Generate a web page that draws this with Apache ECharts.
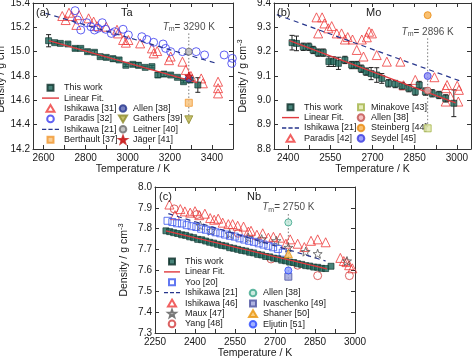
<!DOCTYPE html>
<html><head><meta charset="utf-8">
<script src="https://cdn.jsdelivr.net/npm/echarts@6/dist/echarts.min.js"></script>
<style>html,body{margin:0;padding:0;background:#fff}#c{width:474px;height:360px}</style>
</head><body><div id="c"></div>
<script>
// ---------------- Panel (a) Ta ----------------
const taT   = [2624,2653,2680,2716,2750,2777,2809,2842,2869,2898,2930,2959,2991,3024,3051,3083,3115,3143,3172,3204,3236,3265,3297,3333];
const taRho = [15.09,15.074,15.068,15.063,15.027,15.027,15.0,14.995,14.959,14.953,14.942,14.932,14.888,14.896,14.888,14.871,14.877,14.808,14.816,14.808,14.789,14.753,14.767,14.726];
const taErr = [0.05,0.01,0.01,0.01,0.015,0.01,0.015,0.015,0.01,0.015,0.02,0.015,0.01,0.015,0.02,0.01,0.01,0.02,0.02,0.01,0.01,0.01,0.02,0.06];
const taFitT = [2625,3330];
const taFitRho = [15.09,14.745];
const ta31T = [2689,2705,2721,2734,2769,2756,2814,2838,2854,2898,2949,2954,2978,2991,3003,3059,3115,3123,3140,3196,3204,3260,3276,3300,3349,3357,3429,3429,3429];
const ta31Rho = [15.293,15.26,15.32,15.293,15.30,15.22,15.274,15.247,15.21,15.205,15.18,15.15,15.096,15.074,15.096,15.068,15.027,14.986,15.005,14.93,14.96,14.918,14.85,14.80,14.78,14.74,14.753,14.70,14.657];
const ta32T = [2750,2761,2777,2805,2825,2842,2858,2879,2895,2922,2938,2978,3003,3067,3091,3123,3168,3180,3204,3260,3325,3365,3458,3497,3494];
const ta32Rho = [15.337,15.26,15.178,15.238,15.205,15.178,15.192,15.238,15.184,15.15,15.164,15.184,15.137,15.123,15.10,15.077,15.063,15.027,15.0,15.0,15.0,14.973,14.973,14.945,14.904];
const ta21T = [2610,3420];
const ta21Rho = [15.315,14.905];
const taTm = 3290;
const taTmLine = [15.15,14.41];
const taSingleNames = ['Berthault [37]','Allen [38]#a','Gathers [39]','Leitner [40]','Jäger [41]'];
const taSingleRho = [14.58,14.78,14.44,15.00,14.80];

// ---------------- Panel (b) Mo ----------------
const moT = [2414,2430,2454,2474,2489,2507,2525,2545,2561,2579,2602,2626,2644,2660,2677,2695,2715,2733,2757,2781,2805,2829,2852,2866,2888,2912,2936,2960,2989];
const moRho = [9.237,9.234,9.22,9.22,9.207,9.196,9.196,9.159,9.159,9.152,9.166,9.145,9.145,9.13,9.118,9.11,9.104,9.09,9.07,9.067,9.059,9.05,9.036,9.063,9.036,9.029,9.022,9.008,8.988];
const moErr = [0.03,0.03,0.015,0.015,0.015,0.015,0.015,0.02,0.02,0.025,0.015,0.015,0.015,0.015,0.015,0.025,0.03,0.02,0.015,0.015,0.015,0.015,0.015,0.015,0.015,0.015,0.015,0.015,0.055];
const moFitT = [2405,2995];
const moFitRho = [9.245,8.99];
const mo42T = [2501,2521,2529,2507,2543,2555,2573,2590,2602,2612,2629,2644,2662,2680,2668,2688,2698,2715,2751,2799,2810,2852,2920,2960,2965,2977,2960,3001,3007,3005];
const mo42Rho = [9.341,9.341,9.316,9.275,9.296,9.305,9.275,9.275,9.25,9.26,9.25,9.207,9.25,9.259,9.18,9.282,9.275,9.186,9.159,9.159,9.062,9.084,9.095,9.05,9.063,9.015,8.995,9.06,9.043,8.995];
const mo21T = [2360,3010];
const mo21Rho = [9.352,9.08];
const moTm = 2896;
const moTmLine = [9.255,8.886];
const moSingleNames = ['Minakove [43]','Allen [38]#b','Steinberg [44]','Seydel [45]'];
const moSingleRho = [8.885,9.04,9.35,9.10];

// ---------------- Panel (c) Nb ----------------
const nbT = [2291,2305,2320,2335,2350,2365,2380,2395,2410,2425,2440,2455,2470,2485,2500,2515,2530,2545,2560,2575,2590,2605,2620,2635,2650,2665,2680,2695,2710,2725,2740,2755,2770,2785,2800,2815,2830,2845,2860,2875,2890,2910];
const nbRho = [7.79,7.786,7.781,7.777,7.771,7.768,7.761,7.757,7.749,7.747,7.741,7.735,7.731,7.725,7.72,7.717,7.709,7.706,7.701,7.696,7.693,7.687,7.684,7.677,7.674,7.667,7.665,7.659,7.656,7.649,7.646,7.64,7.638,7.632,7.629,7.623,7.621,7.616,7.615,7.61,7.609,7.62];
const nbFitT = [2291,2895];
const nbFitRho = [7.79,7.608];
const yooT = [2297,2315,2333,2351,2369,2387,2405,2423,2441,2459,2477,2495,2513,2531,2549,2567,2585,2603,2621,2639,2657,2675,2693,2711,2729];
const yooRho = [7.838,7.832,7.826,7.825,7.817,7.812,7.808,7.80,7.795,7.79,7.783,7.778,7.772,7.766,7.762,7.754,7.748,7.742,7.737,7.73,7.724,7.718,7.711,7.703,7.685];
const nb21T = [2300,2890];
const nb21Rho = [7.872,7.645];
const nb46T = [2304,2325,2345,2362,2382,2400,2416,2437,2457,2472,2487,2504,2525,2541,2560,2582,2600,2610,2632,2654,2675,2694,2719,2741,2757,2785,2810,2835,2860,2890,2945,2958,2968,2978,2990];
const nb46Rho = [7.916,7.865,7.894,7.883,7.877,7.884,7.865,7.872,7.851,7.843,7.848,7.829,7.822,7.822,7.814,7.81,7.786,7.79,7.771,7.778,7.757,7.761,7.757,7.728,7.749,7.728,7.712,7.742,7.749,7.735,7.66,7.645,7.64,7.625,7.61];
const mauxT = [2420,2460,2530,2600,2650,2705,2750,2815,2860,2970];
const mauxRho = [7.815,7.79,7.775,7.757,7.75,7.742,7.71,7.69,7.68,7.645];
const yangT = [2322,2407,2562,2685,2785,2860,2979];
const yangRho = [7.895,7.868,7.778,7.655,7.625,7.575,7.575];
const nbTm = 2750;
const nbTmLine = [7.87,7.55];
const nbSingleNames = ['Allen [38]#c','Ivaschenko [49]','Shaner [50]','Eljutin [51]'];
const nbSingleRho = [7.83,7.57,7.68,7.60];

// ---------------- axis ticks ----------------
const taXLabels = [2600,2800,3000,3200,3400];
const taXTicks = [2600,2700,2800,2900,3000,3100,3200,3300,3400,3500];
const moXLabels = [2400,2550,2700,2850,3000];
const moXTicks = [2400,2475,2550,2625,2700,2775,2850,2925,3000];
const nbXLabels = [2250,2400,2550,2700,2850,3000];
const nbXTicks = [2250,2325,2400,2475,2550,2625,2700,2775,2850,2925,3000];

const FONT = "'Liberation Sans', Arial, Helvetica, sans-serif";
const AX = '#333';
const TXT = '#1a1a1a';
const TEAL = '#1c6559', TEAL_E = '#0b2e28';
const FITRED = '#e0393e';
const TRI = '#ee3a3a';
const CIRC = '#3a3aef';
const NAVY = '#26358c';
const STAR = 'path://M0,-10L2.35,-3.24L9.51,-3.09L3.8,1.24L5.88,8.09L0,4L-5.88,8.09L-3.8,1.24L-9.51,-3.09L-2.35,-3.24Z';

// legend icon paths: an invisible bounding box (moveTo corners) keeps the marker undistorted
function icon(shape, w) {
  const h = 7, c = w / 2, m = h / 2;
  let p;
  if (shape === 'line') p = `M0,${m - 0.7}h${w}v1.4h-${w}z`;
  else if (shape === 'dash') { const d = w / 4; p = `M0,${m - 0.65}h${d}v1.3h-${d}z M${1.5 * d},${m - 0.65}h${d}v1.3h-${d}z M${3 * d},${m - 0.65}h${d}v1.3h-${d}z`; }
  else if (shape === 'rect') p = `M${c - 3},${m - 3}h6v6h-6z`;
  else if (shape === 'circle') p = `M${c - 3.3},${m}a3.3,3.3 0 1,0 6.6,0a3.3,3.3 0 1,0 -6.6,0z`;
  else if (shape === 'triangle') p = `M${c},${m - 3.5}L${c + 4},${m + 3.3}L${c - 4},${m + 3.3}z`;
  else if (shape === 'tridown') p = `M${c - 4},${m - 3.3}L${c + 4},${m - 3.3}L${c},${m + 3.5}z`;
  else if (shape === 'star') {
    const pts = [[0,-10],[2.35,-3.24],[9.51,-3.09],[3.8,1.24],[5.88,8.09],[0,4],[-5.88,8.09],[-3.8,1.24],[-9.51,-3.09],[-2.35,-3.24]];
    p = 'M' + pts.map(q => (c + q[0] * 0.4).toFixed(2) + ',' + (m + 0.4 + q[1] * 0.4).toFixed(2)).join('L') + 'z';
  }
  return `path://M0,0M${w},${h}` + p;
}

const pairs = (xs, ys) => xs.map((x, i) => [x, ys[i]]);

function xPair(gi, min, max, labels, ticks) {
  const line = {show: true, onZero: false, lineStyle: {color: AX, width: 1}};
  const tick = {show: true, inside: true, length: 4, customValues: ticks, lineStyle: {color: AX}};
  return [
    {type: 'value', gridIndex: gi, min, max, position: 'bottom', axisLine: line, axisTick: tick, splitLine: {show: false},
     axisLabel: {show: true, customValues: labels, fontSize: 10, color: TXT, fontFamily: FONT, margin: 4, formatter: v => String(v)},
     name: 'Temperature / K', nameLocation: 'middle', nameGap: 14,
     nameTextStyle: {fontSize: 10.5, color: TXT, fontFamily: FONT}},
    {type: 'value', gridIndex: gi, min, max, position: 'top', axisLine: line, axisTick: tick, splitLine: {show: false},
     axisLabel: {show: false}}
  ];
}
function yPair(gi, min, max, interval) {
  const line = {show: true, onZero: false, lineStyle: {color: AX, width: 1}};
  const tick = {show: true, inside: true, length: 4, lineStyle: {color: AX}};
  return [
    {type: 'value', gridIndex: gi, min, max, interval, position: 'left', axisLine: line, axisTick: tick, splitLine: {show: false},
     axisLabel: {fontSize: 10, color: TXT, fontFamily: FONT, margin: 3, formatter: v => v.toFixed(1)},
     name: 'Density / g cm{s|-3}', nameLocation: 'middle', nameGap: 23,
     nameTextStyle: {fontSize: 10.5, color: TXT, fontFamily: FONT, rich: {s: {fontSize: 7.5, fontFamily: FONT, color: TXT, padding: [0, 0, 7, 0]}}}},
    {type: 'value', gridIndex: gi, min, max, interval, position: 'right', axisLine: line, axisTick: tick, splitLine: {show: false},
     axisLabel: {show: false}}
  ];
}

function sc(gi, name, xs, ys, symbol, size, color, border, extra) {
  return Object.assign({
    type: 'scatter', name, xAxisIndex: gi * 2, yAxisIndex: gi * 2, symbol, symbolSize: size,
    itemStyle: {color, borderColor: border, borderWidth: 1}, data: pairs(xs, ys), z: 3
  }, extra || {});
}
function ln(gi, name, xs, ys, color, type, width) {
  return {type: 'line', name, xAxisIndex: gi * 2, yAxisIndex: gi * 2, symbol: 'none',
    lineStyle: {color, type, width}, itemStyle: {color}, data: pairs(xs, ys), z: 4};
}
function err(gi, xs, ys, es) {
  return {type: 'custom', xAxisIndex: gi * 2, yAxisIndex: gi * 2, silent: true, z: 2,
    encode: {x: 0, y: [1, 2]},
    data: xs.map((x, i) => [x, ys[i] - es[i], ys[i] + es[i]]),
    renderItem: (params, api) => {
      const a = api.coord([api.value(0), api.value(1)]);
      const b = api.coord([api.value(0), api.value(2)]);
      const w = 2.5, st = {stroke: '#222', lineWidth: 1};
      return {type: 'group', children: [
        {type: 'line', shape: {x1: a[0], y1: a[1], x2: b[0], y2: b[1]}, style: st},
        {type: 'line', shape: {x1: a[0] - w, y1: a[1], x2: a[0] + w, y2: a[1]}, style: st},
        {type: 'line', shape: {x1: b[0] - w, y1: b[1], x2: b[0] + w, y2: b[1]}, style: st}
      ]};
    }};
}
function tmLine(gi, tm, ys, text) {
  return [
    {type: 'line', xAxisIndex: gi * 2, yAxisIndex: gi * 2, symbol: 'none', silent: true, z: 1,
     lineStyle: {color: '#777', type: [1.5, 2], width: 1}, data: [[tm, ys[0]], [tm, ys[1]]]},
    {type: 'scatter', xAxisIndex: gi * 2, yAxisIndex: gi * 2, silent: true, symbolSize: 1, z: 6,
     itemStyle: {color: 'rgba(0,0,0,0)'}, data: [[tm, ys[0]]],
     label: {show: true, position: 'top', distance: 0, formatter: '{i|T}{s|m}= ' + text,
       fontSize: 10, color: TXT, fontFamily: FONT,
       rich: {i: {fontStyle: 'italic', fontSize: 10, fontFamily: FONT, color: TXT},
              s: {fontSize: 7, fontFamily: FONT, color: TXT, padding: [5, 0, 0, 0]}}}}
  ];
}

const series = [];
const legendShape = {};
// (a)
series.push(sc(0, 'Ishikawa [31]', ta31T, ta31Rho, 'triangle', 9, 'rgba(255,255,255,0)', TRI));
series.push(sc(0, 'Paradis [32]', ta32T, ta32Rho, 'circle', 8, 'rgba(255,255,255,0)', CIRC));
series.push(ln(0, 'Ishikawa [21]', ta21T, ta21Rho, NAVY, [5, 4], 1.2));
series.push(err(0, taT, taRho, taErr));
series.push(sc(0, 'This work', taT, taRho, 'rect', 6, TEAL, TEAL_E, {itemStyle: {color: TEAL, borderColor: TEAL_E, borderWidth: 0.8}}));
series.push(ln(0, 'Linear Fit.', taFitT, taFitRho, FITRED, 'solid', 1.3));
series.push(...tmLine(0, taTm, taTmLine, '3290 K'));
const taSingleStyle = [['rect', 7, '#f8c27a', '#f0962e'], ['circle', 7, '#5561b0', '#26358c'], ['triangle', 8, '#b8b24a', '#8d8a2c'], ['circle', 7, '#b5b5b5', '#6d6d6d'], [STAR, 8, '#f02828', '#c01010']];
taSingleNames.forEach((n, i) => {
  const s = taSingleStyle[i];
  series.push(sc(0, n, [taTm], [taSingleRho[i]], s[0], s[1], s[2], s[3], {z: 5, symbolRotate: n.startsWith('Gathers') ? 180 : 0}));
});
// (b)
series.push(sc(1, 'Paradis [42]', mo42T, mo42Rho, 'triangle', 9, 'rgba(255,255,255,0)', TRI));
series.push(ln(1, 'Ishikawa [21]', mo21T, mo21Rho, NAVY, [5, 4], 1.2));
series.push(err(1, moT, moRho, moErr));
series.push(sc(1, 'This work', moT, moRho, 'rect', 6, TEAL, TEAL_E, {itemStyle: {color: TEAL, borderColor: TEAL_E, borderWidth: 0.8}}));
series.push(ln(1, 'Linear Fit.', moFitT, moFitRho, FITRED, 'solid', 1.3));
series.push(...tmLine(1, moTm, moTmLine, '2896 K'));
const moSingleStyle = [['rect', 7, '#dfe6a8', '#a4b44a'], ['circle', 7, '#f2b3b3', '#c0504d'], ['circle', 7, '#f7b04e', '#e88a10'], ['circle', 7, '#8a8cf5', '#3a3ae0']];
moSingleNames.forEach((n, i) => {
  const s = moSingleStyle[i];
  series.push(sc(1, n, [moTm], [moSingleRho[i]], s[0], s[1], s[2], s[3], {z: 5}));
});
// (c)
series.push(sc(2, 'Ishikawa [46]', nb46T, nb46Rho, 'triangle', 9, 'rgba(255,255,255,0)', TRI));
series.push(sc(2, 'Yang [48]', yangT, yangRho, 'circle', 8, 'rgba(255,255,255,0)', '#d23c3c'));
series.push(sc(2, 'Maux [47]', mauxT, mauxRho, STAR, 9, 'rgba(255,255,255,0)', '#555555'));
series.push(sc(2, 'Yoo [20]', yooT, yooRho, 'rect', 7, 'rgba(255,255,255,0)', '#3a55ee'));
series.push(ln(2, 'Ishikawa [21]', nb21T, nb21Rho, NAVY, [5, 4], 1.2));
series.push(sc(2, 'This work', nbT, nbRho, 'rect', 6, TEAL, TEAL_E, {itemStyle: {color: TEAL, borderColor: TEAL_E, borderWidth: 0.8}}));
series.push(ln(2, 'Linear Fit.', nbFitT, nbFitRho, FITRED, 'solid', 1.3));
series.push(...tmLine(2, nbTm, nbTmLine, '2750 K'));
const nbSingleStyle = [['circle', 7, '#bfe6d8', '#3aa58a'], ['rect', 7, '#9aa0d8', '#4a50a0'], ['triangle', 8, '#f7c060', '#e8940a'], ['circle', 7, '#8a9cff', '#2a48ff']];
nbSingleNames.forEach((n, i) => {
  const s = nbSingleStyle[i];
  series.push(sc(2, n, [nbTm], [nbSingleRho[i]], s[0], s[1], s[2], s[3], {z: 5}));
});

// legend marker shape per series (mirrors the series symbols above)
function shapeOf(n) {
  const base = n.split('#')[0];
  if (base === 'Linear Fit.') return 'line';
  if (base === 'Ishikawa [21]') return 'dash';
  if (/This work|Yoo|Berthault|Minakove|Ivaschenko/.test(base)) return 'rect';
  if (/Ishikawa \[31\]|Ishikawa \[46\]|Paradis \[42\]|Shaner/.test(base)) return 'triangle';
  if (/Gathers/.test(base)) return 'tridown';
  if (/Jäger|Maux/.test(base)) return 'star';
  return 'circle';
}
function legend(names, left, top, iw) {
  return {data: names.map(n => ({name: n, icon: icon(shapeOf(n), iw)})), orient: 'vertical', left, top,
    itemWidth: iw, itemHeight: 7, itemGap: 0, padding: 0,
    selectedMode: false, formatter: n => n.split('#')[0],
    textStyle: {fontSize: 9, lineHeight: 10.4, color: TXT, fontFamily: FONT}};
}

const option = {
  animation: false,
  backgroundColor: '#fff',
  grid: [
    {left: 33, top: 3, width: 200, height: 146, outerBoundsMode: 'none'},
    {left: 274, top: 3, width: 197, height: 146, outerBoundsMode: 'none'},
    {left: 155, top: 187, width: 200, height: 146, outerBoundsMode: 'none'}
  ],
  xAxis: [...xPair(0, 2550, 3500, taXLabels, taXTicks), ...xPair(1, 2350, 3050, moXLabels, moXTicks), ...xPair(2, 2250, 3000, nbXLabels, nbXTicks)],
  yAxis: [...yPair(0, 14.2, 15.4, 0.2), ...yPair(1, 8.8, 9.4, 0.1), ...yPair(2, 7.3, 8.0, 0.1)],
  title: [
    {text: '(a)', left: 36, top: 7, padding: 0, textStyle: {fontSize: 11, fontWeight: 'normal', color: TXT, fontFamily: FONT}},
    {text: 'Ta', left: 121, top: 7, padding: 0, textStyle: {fontSize: 11, fontWeight: 'normal', color: TXT, fontFamily: FONT}},
    {text: '(b)', left: 277, top: 7, padding: 0, textStyle: {fontSize: 11, fontWeight: 'normal', color: TXT, fontFamily: FONT}},
    {text: 'Mo', left: 366, top: 7, padding: 0, textStyle: {fontSize: 11, fontWeight: 'normal', color: TXT, fontFamily: FONT}},
    {text: '(c)', left: 159, top: 191, padding: 0, textStyle: {fontSize: 11, fontWeight: 'normal', color: TXT, fontFamily: FONT}},
    {text: 'Nb', left: 247, top: 191, padding: 0, textStyle: {fontSize: 11, fontWeight: 'normal', color: TXT, fontFamily: FONT}}
  ],
  legend: [
    legend(['This work', 'Linear Fit.', 'Ishikawa [31]', 'Paradis [32]', 'Ishikawa [21]', 'Berthault [37]'], 41, 82.5, 17),
    legend(['Allen [38]#a', 'Gathers [39]', 'Leitner [40]', 'Jäger [41]'], 117, 103.3, 10),
    legend(['This work', 'Linear Fit.', 'Ishikawa [21]', 'Paradis [42]'], 281, 102, 17),
    legend(['Minakove [43]', 'Allen [38]#b', 'Steinberg [44]', 'Seydel [45]'], 355, 102, 10),
    legend(['This work', 'Linear Fit.', 'Yoo [20]', 'Ishikawa [21]', 'Ishikawa [46]', 'Maux [47]', 'Yang [48]'], 163, 256.3, 16),
    legend(['Allen [38]#c', 'Ivaschenko [49]', 'Shaner [50]', 'Eljutin [51]'], 247, 287.8, 10)
  ],
  series
};
const chart = echarts.init(document.getElementById('c'), null, {renderer: 'canvas'});
chart.setOption(option);
</script></body></html>
